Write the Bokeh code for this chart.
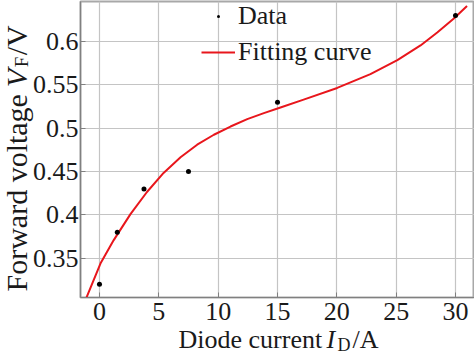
import math
from bokeh.plotting import figure
from bokeh.models import Range1d, Legend, LegendItem, FixedTicker, ColumnDataSource
from bokeh.core.properties import value
from bokeh.embed import file_html
from bokeh.resources import INLINE

# measured data
data_x = [0, 1.5, 3.75, 7.5, 15, 30]
data_y = [0.32, 0.38, 0.43, 0.45, 0.53, 0.63]

# fitting curve
curve_x = [-1.09, 0.08, 1.2, 2.61, 4.0, 5.4, 6.83, 8.23, 9.64, 11.04, 12.45, 13.85,
           15.25, 17.2, 20.03, 22.83, 25.1, 27.05, 28.46, 29.86, 30.97]
curve_y = [0.305, 0.344, 0.371, 0.401, 0.4265, 0.4485, 0.4665, 0.481, 0.4925, 0.502, 0.5105, 0.5175,
           0.524, 0.533, 0.5465, 0.5625, 0.5785, 0.5955, 0.6105, 0.6265, 0.641]

x_ticks = [0, 5, 10, 15, 20, 25, 30]
y_ticks = [0.35, 0.4, 0.45, 0.5, 0.55, 0.6]
y_tick_labels = {0.35: "0.35", 0.4: "0.4", 0.45: "0.45", 0.5: "0.5", 0.55: "0.55", 0.6: "0.6"}

FONT = "Liberation Serif"
X0, X1, Y0, Y1 = -1.6, 31.6, 0.3048, 0.6462
FL, FR, FT, FB = 80, 474, 0, 297   # frame box in canvas pixels

p = figure(width=474, height=354, output_backend="svg", toolbar_location=None,
           x_range=Range1d(X0, X1), y_range=Range1d(Y0, Y1),
           min_border_left=FL, min_border_right=0, min_border_top=1, min_border_bottom=354 - FB)
p.background_fill_color = "white"
p.border_fill_color = "white"
p.outline_line_color = "#a8a8a8"
p.outline_line_width = 2

for ax in (p.xaxis[0], p.yaxis[0]):
    ax.major_label_text_font = FONT
    ax.major_label_text_font_size = "26px"
    ax.major_label_text_color = "#1a1a1a"
    ax.axis_line_color = "#808080"
    ax.axis_line_width = 1.2
    ax.major_tick_in = 5
    ax.major_tick_out = 0
    ax.major_tick_line_color = "#808080"
    ax.minor_tick_line_color = None

p.xaxis[0].ticker = FixedTicker(ticks=x_ticks)
p.yaxis[0].ticker = FixedTicker(ticks=y_ticks)
p.yaxis[0].major_label_overrides = y_tick_labels
p.xaxis[0].major_label_standoff = 5
p.yaxis[0].major_label_standoff = 2

p.xgrid.ticker = FixedTicker(ticks=x_ticks)
p.ygrid.ticker = FixedTicker(ticks=y_ticks)
for g in (p.xgrid[0], p.ygrid[0]):
    g.grid_line_color = "#c4c4c4"
    g.grid_line_width = 1.2

src_d = ColumnDataSource(dict(x=data_x, y=data_y))
src_c = ColumnDataSource(dict(x=curve_x, y=curve_y))

r_curve = p.line("x", "y", source=src_c, line_color="#e8161c", line_width=2, line_join="round")
r_data = p.scatter("x", "y", source=src_d, marker="dot", size=20,
                   line_color="black", fill_color="black", line_width=1)

legend = Legend(items=[LegendItem(label="Data", renderers=[r_data]),
                       LegendItem(label="Fitting curve", renderers=[r_curve])],
                location=(121, 230), orientation="vertical")
legend.label_text_font = FONT
legend.label_text_font_size = "26px"
legend.label_text_color = "#1a1a1a"
legend.background_fill_alpha = 0
legend.border_line_alpha = 0
legend.padding = 0
legend.margin = 0
legend.spacing = 6
legend.glyph_width = 34
legend.glyph_height = 30
legend.label_height = 30
legend.label_standoff = 3
p.add_layout(legend, "center")


def to_data(cx, cy):
    return (X0 + (cx - FL) * (X1 - X0) / (FR - FL),
            Y0 + (FB - cy) * (Y1 - Y0) / (FB - FT))


def lab(text, cx, cy, size="26px", style="normal", angle=0.0):
    x, y = to_data(cx, cy)
    p.text(x=[x], y=[y], text=[text], text_font=value(FONT), text_font_size=value(size),
           text_font_style=style, text_color="#1a1a1a", text_baseline="alphabetic",
           text_align="left", angle=angle, level="overlay")


# x axis title with subscript
lab("Diode current", 178, 339)
lab("I", 326, 339, style="italic")
lab("D", 337, 345, size="18px")
lab("/A", 352, 339)

# y axis title, rotated
a = math.pi / 2
lab("Forward voltage", 15.5, 291, size="30px", angle=a)
lab("V", 15.5, 86, size="30px", style="italic", angle=a)
lab("F", 20.5, 66, size="19px", angle=a)
lab("/V", 15.5, 54, size="30px", angle=a)

open("out.html", "w").write(file_html(p, INLINE))
